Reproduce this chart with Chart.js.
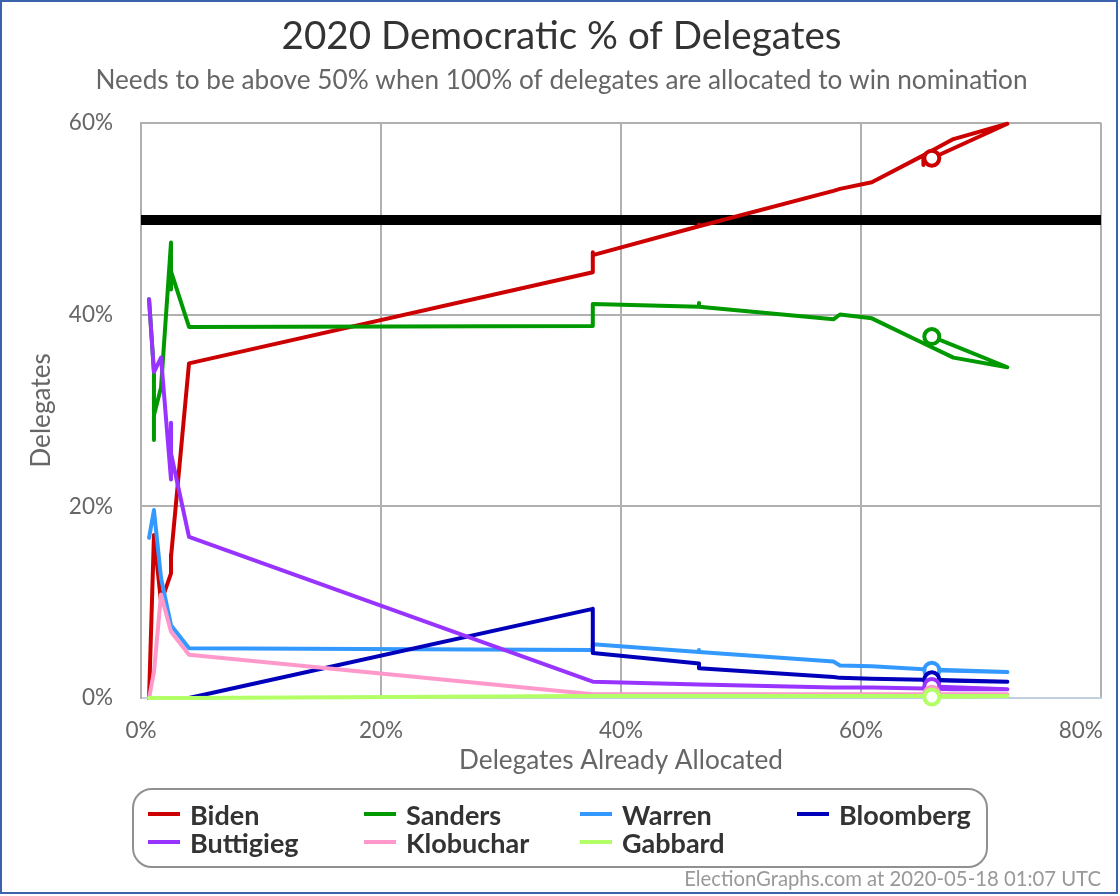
<!DOCTYPE html>
<html>
<head>
<meta charset="utf-8">
<script src="https://cdn.jsdelivr.net/npm/chart.js@4"></script>
<style>
html, body { margin: 0; padding: 0; background: #fff; }
#frame { position: absolute; left: 0; top: 0; width: 1114px; height: 890px; border: 2px solid #3a62ad; overflow: hidden; }
#wrap { position: absolute; left: -2px; top: -2px; width: 1120px; height: 896px; }
#legend { position: absolute; left: 132px; top: 788px; width: 852px; height: 66px; padding-top: 10px; border: 2px solid #909090; border-radius: 20px;
  display: grid; grid-template-columns: 216px 216px 217px 203px; grid-auto-rows: 28px; font: bold 27px Lato, sans-serif; color: #333; }
.item { display: flex; align-items: center; padding-left: 14px; }
.swatch { display: inline-block; width: 32px; height: 4px; margin-right: 10px; }
#credit { position: absolute; right: 19px; top: 866px; font: 20.3px Lato, sans-serif; color: #999; white-space: nowrap; }
</style>
</head>
<body>
<div id="frame">
<div id="wrap">
<canvas id="chart" width="1120" height="896"></canvas>
<div id="legend"></div>
<div id="credit">ElectionGraphs.com at 2020-05-18 01:07 UTC</div>
</div>
</div>
<script>
// % of delegates already allocated at each update; the last one is the latest status
var allocated = [0.67, 1.08, 1.08, 1.08, 1.67, 2.5, 2.5, 2.5, 4.0, 37.65, 37.65, 37.65, 46.5, 46.5, 46.5, 57.7, 58.25, 60.9, 65.2, 65.2, 65.2, 67.7, 72.2, 65.9];
var biden     = [0, 17, 17, 17, 10, 13, 15, 14.7, 34.9, 44.4, 46.5, 46.2, 49.2, 49.4, 49.2, 52.9, 53.1, 53.8, 56.6, 55.6, 56.6, 58.3, 59.9, 56.3];
var sanders   = [41.6, 34, 26.9, 29.5, 32.4, 47.5, 42.6, 44.5, 38.7, 38.8, 41.1, 41.1, 40.8, 41.2, 40.8, 39.5, 40.0, 39.6, 37.0, 37.0, 37.0, 35.5, 34.5, 37.7];
var warren    = [16.7, 19.6, 19.6, 19.6, 12.5, 7.6, 7.6, 7.6, 5.2, 5.0, 5.6, 5.6, 4.8, 5.0, 4.8, 3.8, 3.4, 3.3, 3.0, 3.0, 3.0, 2.9, 2.7, 2.9];
var bloomberg = [0, 0, 0, 0, 0, 0, 0, 0, 0, 9.3, 4.7, 4.7, 3.6, 3.1, 3.1, 2.2, 2.1, 2.0, 1.9, 1.9, 1.9, 1.8, 1.7, 1.9];
var buttigieg = [41.6, 34, 34, 34, 35.5, 22.8, 28.7, 25.5, 16.8, 1.7, 1.7, 1.7, 1.4, 1.4, 1.4, 1.1, 1.1, 1.1, 1.0, 1.0, 1.0, 0.9, 0.9, 1.2];
var klobuchar = [0, 2.7, 2.7, 2.7, 10.8, 6.9, 6.9, 6.9, 4.5, 0.4, 0.4, 0.4, 0.4, 0.4, 0.4, 0.4, 0.4, 0.4, 0.4, 0.4, 0.4, 0.4, 0.4, 0.4];
var gabbard   = [0, 0, 0, 0, 0, 0, 0, 0, 0, 0.2, 0.2, 0.2, 0.2, 0.2, 0.2, 0.2, 0.2, 0.2, 0.2, 0.2, 0.2, 0.2, 0.2, 0.1];

var winLineX = [0, 80];
var winLineY = [49.85, 49.85];

var names = ['Biden', 'Sanders', 'Warren', 'Bloomberg', 'Buttigieg', 'Klobuchar', 'Gabbard'];
var values = [biden, sanders, warren, bloomberg, buttigieg, klobuchar, gabbard];
var colors = ['#cc0000', '#009900', '#3399ff', '#0000bb', '#9933ff', '#ff99cc', '#b3ff66'];
// lower order is drawn on top
var drawOrder = [6, 5, 4, 3, 2, 1, 0];

function pairs(xs, ys) {
    return xs.map(function (x, i) { return { x: x, y: ys[i] }; });
}

var last = allocated.length - 1;
var datasets = names.map(function (name, s) {
    return {
        label: name,
        data: pairs(allocated, values[s]),
        showLine: true,
        borderColor: colors[s],
        backgroundColor: '#ffffff',
        borderWidth: 4,
        borderCapStyle: 'round',
        borderJoinStyle: 'round',
        tension: 0,
        clip: false,
        order: drawOrder[s],
        pointBorderWidth: 4,
        pointRadius: function (c) { return c.dataIndex === last ? 7.5 : 0; },
        pointHoverRadius: function (c) { return c.dataIndex === last ? 7.5 : 0; }
    };
});
datasets.push({
    label: 'Win line',
    data: pairs(winLineX, winLineY),
    showLine: true,
    borderColor: '#000000',
    borderWidth: 10,
    pointRadius: 0,
    order: 10
});

new Chart(document.getElementById('chart'), {
    type: 'scatter',
    data: { datasets: datasets },
    options: {
        responsive: false,
        animation: false,
        layout: { padding: { left: 22, right: 19, top: 8, bottom: 117 } },
        plugins: {
            legend: { display: false },
            tooltip: { enabled: false },
            title: {
                display: true,
                text: '2020 Democratic % of Delegates',
                color: '#333333',
                font: { family: 'Lato', size: 38.6, weight: 'normal' },
                padding: { top: 5, bottom: 6 }
            },
            subtitle: {
                display: true,
                text: 'Needs to be above 50% when 100% of delegates are allocated to win nomination',
                color: '#666666',
                font: { family: 'Lato', size: 26.2, weight: 'normal' },
                padding: { bottom: 26 }
            }
        },
        scales: {
            x: {
                type: 'linear',
                min: 0,
                max: 80,
                border: { display: true, color: '#c0d0e0', width: 2 },
                grid: { color: '#b0b0b0', lineWidth: 2, drawTicks: false },
                ticks: {
                    stepSize: 20,
                    padding: 19,
                    color: '#666666',
                    font: { family: 'Lato', size: 22.5 },
                    // trailing spaces pull the 80% label back inside the plot edge
                    callback: function (v) { return v === 80 ? v + '%       ' : v + '%'; }
                },
                title: {
                    display: true,
                    text: 'Delegates Already Allocated',
                    color: '#666666',
                    font: { family: 'Lato', size: 26.2 },
                    padding: { top: 4, bottom: 3 }
                },
                afterFit: function (s) { s.height = 81; s.paddingRight = 0; s.paddingLeft = 0; }
            },
            y: {
                min: 0,
                max: 60,
                border: { display: true, color: '#b0b0b0', width: 2 },
                grid: { color: '#b0b0b0', lineWidth: 2, drawTicks: false },
                ticks: {
                    stepSize: 20,
                    padding: 28,
                    color: '#666666',
                    font: { family: 'Lato', size: 22.5 },
                    callback: function (v) { return v + '%'; }
                },
                title: {
                    display: true,
                    text: 'Delegates',
                    color: '#666666',
                    font: { family: 'Lato', size: 26.2 },
                    padding: { bottom: 4 }
                },
                afterFit: function (s) { s.width = 119; s.paddingTop = 0; s.paddingBottom = 0; }
            }
        }
    }
});

var legend = document.getElementById('legend');
names.forEach(function (name, s) {
    var item = document.createElement('div');
    item.className = 'item';
    item.innerHTML = '<span class="swatch" style="background:' + colors[s] + '"></span>' + name;
    legend.appendChild(item);
});
</script>
</body>
</html>
